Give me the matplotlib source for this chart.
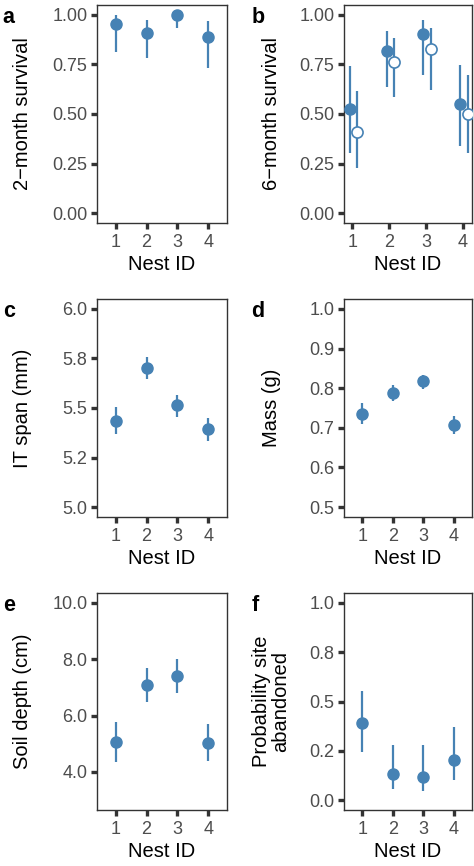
import numpy as np
import matplotlib.pyplot as plt

plt.rcParams['font.family'] = ['Liberation Sans', 'DejaVu Sans']

nest = [1, 2, 3, 4]

# a: 2-month survival
surv2 = [0.955, 0.907, 1.0, 0.889]
surv2_lo = [0.815, 0.781, 0.936, 0.732]
surv2_hi = [0.998, 0.975, 1.0, 0.970]

# b: 6-month survival, filled and open series
surv6_f = [0.527, 0.820, 0.902, 0.549]
surv6_f_lo = [0.301, 0.635, 0.699, 0.337]
surv6_f_hi = [0.742, 0.921, 0.975, 0.747]
surv6_o = [0.407, 0.764, 0.827, 0.500]
surv6_o_lo = [0.227, 0.584, 0.620, 0.303]
surv6_o_hi = [0.618, 0.882, 0.933, 0.697]

# c: IT span
it_span = [5.435, 5.700, 5.514, 5.393]
it_lo = [5.370, 5.645, 5.457, 5.331]
it_hi = [5.503, 5.755, 5.568, 5.452]

# d: mass
mass = [0.736, 0.788, 0.817, 0.707]
mass_lo = [0.710, 0.768, 0.797, 0.685]
mass_hi = [0.762, 0.807, 0.832, 0.730]

# e: soil depth
soil = [5.05, 7.09, 7.41, 5.04]
soil_lo = [4.34, 6.50, 6.79, 4.40]
soil_hi = [5.76, 7.68, 8.02, 5.69]

# f: probability site abandoned
aband = [0.389, 0.130, 0.119, 0.205]
aband_lo = [0.246, 0.056, 0.047, 0.101]
aband_hi = [0.552, 0.280, 0.280, 0.372]

col = '#4682B4'
W, H = 474, 866
fig = plt.figure(figsize=(W / 100, H / 100), dpi=100)


def make_ax(x0, x1, y0, y1):
    return fig.add_axes([x0 / W, 1 - y1 / H, (x1 - x0) / W, (y1 - y0) / H])


def style(ax, letter, ylabel, yticks, ylabels, ylim, xlim=(0.4, 4.6)):
    ax.set_xlim(*xlim)
    ax.set_ylim(*ylim)
    ax.set_xticks(nest)
    ax.set_xticklabels([str(n) for n in nest])
    ax.set_yticks(yticks)
    ax.set_yticklabels(ylabels)
    for s in ax.spines.values():
        s.set_color('#333333')
        s.set_linewidth(1.0)
    ax.tick_params(length=4.5, width=2.4, color='#333333', labelcolor='#4D4D4D',
                   labelsize=13)
    ax.tick_params(axis='x', pad=3.5)
    ax.tick_params(axis='y', pad=2.5)
    ax.set_xlabel('Nest ID', fontsize=14.5, va='center')
    ax.xaxis.set_label_coords(0.5, -0.19)
    ax.set_ylabel(ylabel, fontsize=14.5, va='center', ha='center')
    ax.yaxis.set_label_coords(-0.57, 0.5)
    ax.text(-0.725, 0.99, letter, transform=ax.transAxes, fontsize=15.5,
            fontweight='bold', ha='left', va='top')


def pts(ax, x, m, lo, hi, filled=True):
    x = np.asarray(x, float)
    ax.vlines(x, lo, hi, color=col, lw=1.6, zorder=2)
    if filled:
        ax.plot(x, m, 'o', color=col, ms=8, zorder=3, clip_on=False)
    else:
        ax.plot(x, m, 'o', mfc='white', mec=col, mew=1.2, ms=8, zorder=3)


ax_a = make_ax(97, 227, 5, 223)
pts(ax_a, nest, surv2, surv2_lo, surv2_hi)
style(ax_a, 'a', '2\u2212month survival', [0, 0.25, 0.5, 0.75, 1.0],
      ['0.00', '0.25', '0.50', '0.75', '1.00'], (-0.05, 1.05))

ax_b = make_ax(344, 472, 5, 223)
pts(ax_b, np.array(nest) - 0.07, surv6_f, surv6_f_lo, surv6_f_hi)
pts(ax_b, np.array(nest) + 0.13, surv6_o, surv6_o_lo, surv6_o_hi, filled=False)
style(ax_b, 'b', '6\u2212month survival', [0, 0.25, 0.5, 0.75, 1.0],
      ['0.00', '0.25', '0.50', '0.75', '1.00'], (-0.05, 1.05), xlim=(0.77, 4.25))

ax_c = make_ax(97, 227, 299, 517)
pts(ax_c, nest, it_span, it_lo, it_hi)
style(ax_c, 'c', 'IT span (mm)', [5.0, 5.25, 5.5, 5.75, 6.0],
      ['5.0', '5.2', '5.5', '5.8', '6.0'], (4.95, 6.05))

ax_d = make_ax(344, 472, 299, 517)
pts(ax_d, nest, mass, mass_lo, mass_hi)
style(ax_d, 'd', 'Mass (g)', [0.5, 0.6, 0.7, 0.8, 0.9, 1.0],
      ['0.5', '0.6', '0.7', '0.8', '0.9', '1.0'], (0.475, 1.025))

ax_e = make_ax(97, 227, 593, 810)
pts(ax_e, nest, soil, soil_lo, soil_hi)
style(ax_e, 'e', 'Soil depth (cm)', [4, 6, 8, 10],
      ['4.0', '6.0', '8.0', '10.0'], (2.65, 10.35))

ax_f = make_ax(344, 472, 593, 810)
pts(ax_f, nest, aband, aband_lo, aband_hi)
style(ax_f, 'f', 'Probability site\nabandoned', [0, 0.25, 0.5, 0.75, 1.0],
      ['0.0', '0.2', '0.5', '0.8', '1.0'], (-0.05, 1.05))
ax_f.yaxis.label.set_linespacing(1.0)
ax_f.yaxis.set_label_coords(-0.57, 0.5)

fig.savefig('out.png', dpi=100)
